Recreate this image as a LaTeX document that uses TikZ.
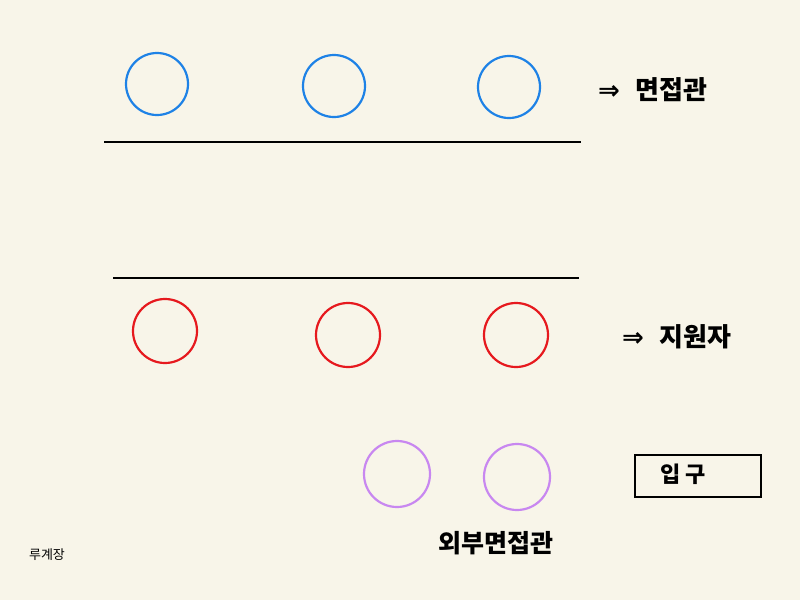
\documentclass[tikz,border=0pt]{standalone}
\usepackage{fontspec}
\newfontfamily\kr{Noto Sans CJK KR}
\newfontfamily\dv{DejaVu Sans}
\definecolor{bg}{RGB}{248,245,233}
\definecolor{cblue}{RGB}{30,130,230}
\definecolor{cred}{RGB}{230,25,30}
\definecolor{cpurple}{RGB}{200,135,240}
\begin{document}
\begin{tikzpicture}[x=1pt,y=-1pt,
  bluec/.style={circle,draw=cblue,line width=2.2pt,minimum size=62pt,inner sep=0pt},
  redc/.style={circle,draw=cred,line width=2.2pt,minimum size=64pt,inner sep=0pt},
  purc/.style={circle,draw=cpurple,line width=2.2pt,minimum size=66pt,inner sep=0pt},
  rule/.style={line width=2pt,black},
  lbl/.style={font=\kr\bfseries\fontsize{26}{30}\selectfont,inner sep=0pt,anchor=west}]
\fill[bg] (0,0) rectangle (800,600);
\useasboundingbox (0,0) rectangle (800,600);
\node[bluec] (b1) at (157,84) {};
\node[bluec] (b2) at (334,86) {};
\node[bluec] (b3) at (509,87) {};
\coordinate (l1a) at (104,142); \coordinate (l1b) at (581,142);
\draw[rule] (l1a) -- (l1b);
\coordinate (l2a) at (113,278); \coordinate (l2b) at (579,278);
\draw[rule] (l2a) -- (l2b);
\node[redc] (r1) at (165,331) {};
\node[redc] (r2) at (348,335) {};
\node[redc] (r3) at (516,335) {};
\node[purc] (p1) at (397,474) {};
\node[purc] (p2) at (517,477) {};
\node[lbl] (t1) at (598,90) {{\dv\bfseries ⇒}\hspace{16pt}면접관};
\node[lbl] (t2) at (622,337) {{\dv\bfseries ⇒}\hspace{16pt}지원자};
\node[draw,line width=2pt,minimum width=126pt,minimum height=42pt,inner sep=0pt] (ent) at (698,476) {};
\node[font=\kr\bfseries\fontsize{22}{26}\selectfont,anchor=west,inner sep=0pt] (t3) at (660,474) {입 구};
\node[font=\kr\bfseries\fontsize{25}{30}\selectfont,inner sep=0pt] (t4) at (496,543) {외부면접관};
\node[font=\kr\fontsize{13}{16}\selectfont,inner sep=0pt] (t5) at (47,555) {루계장};
\end{tikzpicture}
\end{document}
